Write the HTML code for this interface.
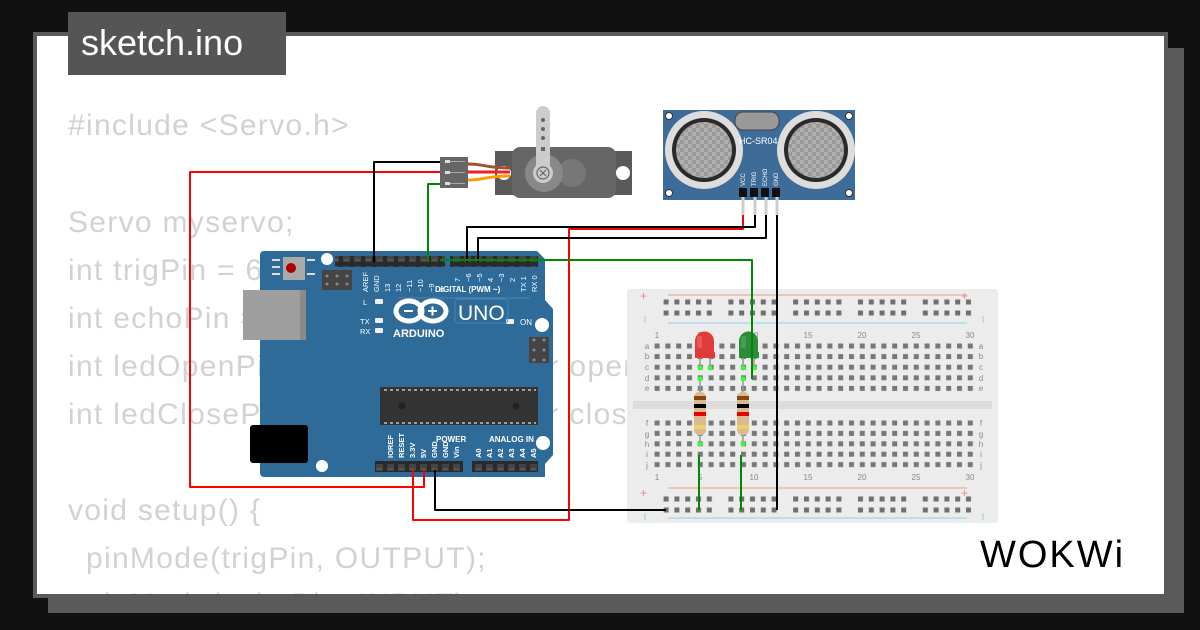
<!DOCTYPE html>
<html><head><meta charset="utf-8"><style>
html,body{margin:0;padding:0;background:#111;}
svg{display:block}
</style></head><body>
<svg width="1200" height="630" viewBox="0 0 1200 630" xmlns="http://www.w3.org/2000/svg" font-family="Liberation Sans, sans-serif">
<defs>
<pattern id="bbh" patternUnits="userSpaceOnUse" x="651.6" y="340.7" width="10.8" height="10.6"><rect x="3" y="2.8" width="5" height="5" fill="#777"/></pattern>
<pattern id="bbh2" patternUnits="userSpaceOnUse" x="651.6" y="417.7" width="10.8" height="10.4"><rect x="3" y="2.8" width="5" height="5" fill="#777"/></pattern>
<pattern id="rail" patternUnits="userSpaceOnUse" x="660.6" y="296.5" width="10.8" height="11"><rect x="3" y="3" width="5" height="5" fill="#6f6f6f"/></pattern>
<pattern id="rail2" patternUnits="userSpaceOnUse" x="660.6" y="493.5" width="10.8" height="11"><rect x="3" y="3" width="5" height="5" fill="#6f6f6f"/></pattern>
<pattern id="hdr" patternUnits="userSpaceOnUse" x="0" y="0" width="11" height="11"><rect x="2" y="2" width="7" height="7" fill="#444"/><rect x="3" y="6" width="5" height="2" fill="#555"/></pattern>
<pattern id="chk" patternUnits="userSpaceOnUse" width="8" height="8"><rect width="8" height="8" fill="#9a9a9a"/><rect width="4" height="4" fill="#b0b0b0"/><rect x="4" y="4" width="4" height="4" fill="#b0b0b0"/></pattern>
</defs>
<rect width="1200" height="630" fill="#111"/>
<rect x="48" y="48" width="1136" height="565" fill="#5a5a5a"/>
<rect x="33" y="32" width="1135" height="566" fill="#5a5a5a"/>
<rect x="37" y="36" width="1127" height="558" fill="#fff"/>
<rect x="68" y="12" width="218" height="63" fill="#555"/>
<text x="81" y="55" font-size="36" fill="#fff">sketch.ino</text>
<g font-size="30" fill="#d2d2d2" letter-spacing="1.3">
<text x="68" y="135">#include &lt;Servo.h&gt;</text>
<text x="68" y="232">Servo myservo;</text>
<text x="68" y="280">int trigPin = 6;</text>
<text x="68" y="328">int echoPin = 5;</text>
<text x="68" y="376">int ledOpenPin = 8;</text>
<text x="420" y="376">// LED for open</text>
<text x="68" y="424">int ledClosePin = 10;</text>
<text x="420" y="424">// LED for close</text>
<text x="68" y="520">void setup() {</text>
<text x="86" y="568">pinMode(trigPin, OUTPUT);</text>
<text x="86" y="614">pinMode(echoPin, INPUT);</text>
</g>
<rect x="33" y="594" width="1135" height="4" fill="#5a5a5a"/>
<rect x="33" y="598" width="15" height="32" fill="#111"/>
<rect x="48" y="598" width="1136" height="15" fill="#5a5a5a"/>
<rect x="0" y="613" width="1200" height="17" fill="#111"/>

<!-- breadboard -->
<rect x="627" y="289" width="371" height="234" rx="3" fill="#ececec"/>
<rect x="633" y="401" width="359" height="8" fill="#dcdcdc"/>
<line x1="668" y1="295" x2="967" y2="295" stroke="#f0b4ad" stroke-width="1.5"/>
<line x1="668" y1="323" x2="967" y2="323" stroke="#a9d9ee" stroke-width="1.5"/>
<line x1="668" y1="488" x2="967" y2="488" stroke="#f0b4ad" stroke-width="1.5"/>
<line x1="668" y1="518" x2="967" y2="518" stroke="#a9d9ee" stroke-width="1.5"/>
<g fill="#e88" font-size="12"><text x="640" y="300">+</text><text x="961" y="300">+</text><text x="640" y="497">+</text><text x="961" y="497">+</text></g>
<g stroke="#a9d9ee" stroke-width="1.5"><line x1="645" y1="316" x2="645" y2="323"/><line x1="983" y1="316" x2="983" y2="323"/><line x1="645" y1="513" x2="645" y2="520"/><line x1="983" y1="513" x2="983" y2="520"/></g>
<g fill="url(#rail)"><rect x="661" y="297" width="54" height="22"/><rect x="725.4" y="297" width="54" height="22"/><rect x="790.2" y="297" width="54" height="22"/><rect x="855" y="297" width="54" height="22"/><rect x="919.8" y="297" width="54" height="22"/></g>
<g fill="url(#rail2)"><rect x="661" y="494" width="54" height="22"/><rect x="725.4" y="494" width="54" height="22"/><rect x="790.2" y="494" width="54" height="22"/><rect x="855" y="494" width="54" height="22"/><rect x="919.8" y="494" width="54" height="22"/></g>
<rect x="651.6" y="340.7" width="324" height="53" fill="url(#bbh)"/>
<rect x="651.6" y="417.7" width="324" height="52" fill="url(#bbh2)"/>
<g font-size="8" fill="#888" text-anchor="middle">
<text x="657" y="338">1</text><text x="700" y="338">5</text><text x="754" y="338">10</text><text x="808" y="338">15</text><text x="862" y="338">20</text><text x="916" y="338">25</text><text x="970" y="338">30</text>
<text x="657" y="480">1</text><text x="700" y="480">5</text><text x="754" y="480">10</text><text x="808" y="480">15</text><text x="862" y="480">20</text><text x="916" y="480">25</text><text x="970" y="480">30</text>
<text x="647" y="349">a</text><text x="647" y="359">b</text><text x="647" y="370">c</text><text x="647" y="381">d</text><text x="647" y="391">e</text>
<text x="647" y="426">f</text><text x="647" y="437">g</text><text x="647" y="447">h</text><text x="647" y="457">i</text><text x="647" y="468">j</text>
<text x="981" y="349">a</text><text x="981" y="359">b</text><text x="981" y="370">c</text><text x="981" y="381">d</text><text x="981" y="391">e</text>
<text x="981" y="426">f</text><text x="981" y="437">g</text><text x="981" y="447">h</text><text x="981" y="457">i</text><text x="981" y="468">j</text>
</g>
<g stroke="#999" stroke-width="1.5"><line x1="700" y1="355" x2="700" y2="368"/><line x1="710" y1="355" x2="710" y2="368"/><line x1="743" y1="355" x2="743" y2="368"/><line x1="754" y1="355" x2="754" y2="368"/>
<line x1="700" y1="379" x2="700" y2="444"/><line x1="743" y1="379" x2="743" y2="444"/></g>
<path d="M695 360 V341 a9.5 9.5 0 0 1 19 0 V352 h1 v6 h-20z" fill="#e03a3a"/>
<rect x="697" y="336" width="5" height="12" rx="2" fill="#f07070" opacity=".6"/>
<path d="M739 360 V341 a9.5 9.5 0 0 1 19 0 V352 h1 v6 h-20z" fill="#2e8b3a"/>
<rect x="741" y="336" width="5" height="12" rx="2" fill="#55b060" opacity=".6"/>
<g fill="#d8bb92"><rect x="694" y="392" width="12" height="43" rx="5"/><rect x="737" y="392" width="12" height="43" rx="5"/></g>
<g><rect x="694" y="396" width="12" height="4" fill="#8b4513"/><rect x="694" y="404" width="12" height="4" fill="#000"/><rect x="694" y="412" width="12" height="4" fill="#e00"/><rect x="694" y="425" width="12" height="4" fill="#f0d060"/>
<rect x="737" y="396" width="12" height="4" fill="#8b4513"/><rect x="737" y="404" width="12" height="4" fill="#000"/><rect x="737" y="412" width="12" height="4" fill="#e00"/><rect x="737" y="425" width="12" height="4" fill="#f0d060"/></g>
<g fill="#3f3"><circle cx="700" cy="368" r="2.5"/><circle cx="710" cy="368" r="2.5"/><circle cx="743" cy="368" r="2.5"/><circle cx="754" cy="368" r="2.5"/><circle cx="700" cy="379" r="2.5"/><circle cx="743" cy="379" r="2.5"/><circle cx="700" cy="444" r="2.5"/><circle cx="743" cy="444" r="2.5"/></g>

<!-- Arduino -->
<path d="M264 251 H537 L545 259 V300 L553 309 V455 L545 464 V477 H264 a4 4 0 0 1 -4 -4 V255 a4 4 0 0 1 4 -4z" fill="#2e6b99"/>
<rect x="243" y="290" width="62" height="50" fill="#9e9e9e"/><rect x="300" y="290" width="6" height="50" fill="#8a8a8a"/>
<rect x="250" y="425" width="58" height="38" rx="3" fill="#000"/>
<rect x="283" y="257" width="22" height="23" fill="#aaa"/><circle cx="291" cy="268" r="5" fill="#a00"/>
<g fill="#ddd"><rect x="272" y="259" width="8" height="2"/><rect x="272" y="266" width="8" height="2"/><rect x="272" y="273" width="8" height="2"/><rect x="307" y="259" width="8" height="2"/><rect x="307" y="273" width="8" height="2"/></g>
<g fill="#fff"><circle cx="327" cy="259" r="6"/><circle cx="542" cy="325" r="7"/><circle cx="543" cy="443" r="7"/><circle cx="322" cy="466" r="6"/></g>
<rect x="322" y="270" width="30" height="20" fill="#444"/>
<g fill="#888"><circle cx="327" cy="276" r="1.5"/><circle cx="337" cy="276" r="1.5"/><circle cx="347" cy="276" r="1.5"/><circle cx="327" cy="284" r="1.5"/><circle cx="337" cy="284" r="1.5"/><circle cx="347" cy="284" r="1.5"/></g>
<rect x="529" y="337" width="20" height="26" fill="#444"/>
<g fill="#888"><circle cx="534" cy="340" r="1.5"/><circle cx="544" cy="340" r="1.5"/><circle cx="534" cy="350" r="1.5"/><circle cx="544" cy="350" r="1.5"/><circle cx="534" cy="360" r="1.5"/><circle cx="544" cy="360" r="1.5"/></g>
<rect x="335" y="256" width="110" height="11" fill="#2a2a2a"/><rect x="335" y="256" width="110" height="11" fill="url(#hdr)"/>
<rect x="450" y="256" width="88" height="11" fill="#2a2a2a"/><rect x="450" y="256" width="88" height="11" fill="url(#hdr)"/>
<rect x="375" y="461" width="88" height="11" fill="#2a2a2a"/><rect x="375" y="461" width="88" height="11" fill="url(#hdr)"/>
<rect x="472" y="461" width="66" height="11" fill="#2a2a2a"/><rect x="472" y="461" width="66" height="11" fill="url(#hdr)"/>
<g fill="#fff" font-size="7.5">
<g transform="translate(368,292) rotate(-90)"><text>AREF</text></g>
<g transform="translate(379,292) rotate(-90)"><text>GND</text></g>
<g transform="translate(390,292) rotate(-90)"><text>13</text></g>
<g transform="translate(401,292) rotate(-90)"><text>12</text></g>
<g transform="translate(412,292) rotate(-90)"><text>~11</text></g>
<g transform="translate(423,292) rotate(-90)"><text>~10</text></g>
<g transform="translate(434,292) rotate(-90)"><text>~9</text></g>
<g transform="translate(444,292) rotate(-90)"><text>8</text></g>
<g transform="translate(460,282) rotate(-90)"><text>7</text></g>
<g transform="translate(471,282) rotate(-90)"><text>~6</text></g>
<g transform="translate(482,282) rotate(-90)"><text>~5</text></g>
<g transform="translate(493,282) rotate(-90)"><text>4</text></g>
<g transform="translate(504,282) rotate(-90)"><text>~3</text></g>
<g transform="translate(515,282) rotate(-90)"><text>2</text></g>
<g transform="translate(526,292) rotate(-90)"><text>TX 1</text></g>
<g transform="translate(537,292) rotate(-90)"><text>RX 0</text></g>
<text x="435" y="292" font-weight="bold" font-size="8">DIGITAL (PWM ~)</text>
<text x="363" y="305">L</text><text x="360" y="324">TX</text><text x="360" y="334">RX</text>
<text x="520" y="325" font-size="8">ON</text>
<text x="393" y="337" font-weight="bold" font-size="11">ARDUINO</text>
<g transform="translate(393,458) rotate(-90)"><text font-weight="bold">IOREF</text></g>
<g transform="translate(404,458) rotate(-90)"><text font-weight="bold">RESET</text></g>
<g transform="translate(415,458) rotate(-90)"><text font-weight="bold">3.3V</text></g>
<g transform="translate(426,458) rotate(-90)"><text font-weight="bold">5V</text></g>
<g transform="translate(437,458) rotate(-90)"><text font-weight="bold">GND</text></g>
<g transform="translate(448,458) rotate(-90)"><text font-weight="bold">GND</text></g>
<g transform="translate(459,458) rotate(-90)"><text font-weight="bold">Vin</text></g>
<g transform="translate(481,458) rotate(-90)"><text font-weight="bold">A0</text></g>
<g transform="translate(492,458) rotate(-90)"><text font-weight="bold">A1</text></g>
<g transform="translate(503,458) rotate(-90)"><text font-weight="bold">A2</text></g>
<g transform="translate(514,458) rotate(-90)"><text font-weight="bold">A3</text></g>
<g transform="translate(525,458) rotate(-90)"><text font-weight="bold">A4</text></g>
<g transform="translate(536,458) rotate(-90)"><text font-weight="bold">A5</text></g>
<text x="436" y="442" font-weight="bold" font-size="8">POWER</text>
<text x="489" y="442" font-weight="bold" font-size="8">ANALOG IN</text>
</g>
<g fill="#eee"><rect x="375" y="299" width="8" height="5" rx="1"/><rect x="375" y="318" width="8" height="5" rx="1"/><rect x="375" y="328" width="8" height="5" rx="1"/><rect x="506" y="319" width="8" height="5" rx="1"/></g>
<g fill="none" stroke="#fff" stroke-width="5"><ellipse cx="409" cy="311" rx="13" ry="10"/><ellipse cx="433" cy="311" rx="13" ry="10"/></g>
<g stroke="#fff" stroke-width="2"><line x1="404" y1="311" x2="413" y2="311"/><line x1="428" y1="311" x2="437" y2="311"/><line x1="432.5" y1="306.5" x2="432.5" y2="315.5"/></g>
<rect x="455" y="299" width="53" height="24" rx="4" fill="none" stroke="#4a86b5" stroke-width="1"/>
<text x="458" y="320" font-size="21" fill="#fff">UNO</text>
<line x1="398" y1="298" x2="530" y2="298" stroke="#5a90bb" stroke-width="0.7"/>
<rect x="380" y="387" width="158" height="38" fill="#333"/>
<g stroke="#ddd" stroke-width="1.2" stroke-dasharray="3,3"><line x1="384" y1="390" x2="536" y2="390"/><line x1="384" y1="423" x2="536" y2="423"/></g>
<g fill="#222"><circle cx="402" cy="406" r="3.5"/><circle cx="516" cy="406" r="3.5"/></g>

<!-- Servo -->
<rect x="495" y="151" width="137" height="44" fill="#5a5a5a"/>
<rect x="512" y="147" width="104" height="51" rx="8" fill="#666"/>
<circle cx="504" cy="173" r="7" fill="#fff"/><circle cx="623" cy="173" r="7" fill="#fff"/>
<circle cx="572" cy="173" r="14" fill="#777"/>
<circle cx="544" cy="173" r="19" fill="#888"/>
<path d="M536 113 a7 7 0 0 1 14 0 L550 175 H536z" fill="#ccc"/>
<circle cx="543" cy="173" r="10" fill="#ccc"/>
<circle cx="543" cy="173" r="6" fill="none" stroke="#666" stroke-width="1.2"/>
<path d="M540 170 l6 6 M546 170 l-6 6" stroke="#666" stroke-width="1.2"/>
<g fill="#666"><circle cx="543" cy="120" r="2"/><circle cx="543" cy="129" r="2"/><circle cx="543" cy="138" r="2"/><rect x="541" y="147" width="4" height="4"/></g>
<path d="M468 164 C485 164 485 168 510 168" stroke="#a0522d" stroke-width="3" fill="none"/>
<path d="M468 172 H510" stroke="#e22" stroke-width="3"/>
<path d="M468 180 C485 180 485 176 510 176" stroke="#f90" stroke-width="3" fill="none"/>
<rect x="440" y="157" width="28" height="31" fill="#666"/>
<g fill="#ddd"><rect x="445" y="160" width="5" height="3"/><rect x="445" y="171" width="5" height="3"/><rect x="445" y="182" width="5" height="3"/></g>
<g stroke="#aaa" stroke-width="1"><line x1="450" y1="161.5" x2="465" y2="161.5"/><line x1="450" y1="172.5" x2="465" y2="172.5"/><line x1="450" y1="183.5" x2="465" y2="183.5"/></g>

<!-- HC-SR04 -->
<rect x="663" y="110" width="192" height="90" fill="#3e6c98"/>
<g fill="#fff" stroke="#333" stroke-width="1"><circle cx="669" cy="116" r="3.5"/><circle cx="849" cy="116" r="3.5"/><circle cx="669" cy="193" r="3.5"/><circle cx="849" cy="193" r="3.5"/></g>
<circle cx="704" cy="150" r="39" fill="#ddd"/><circle cx="704" cy="150" r="32" fill="#2a2a2a"/><circle cx="704" cy="150" r="28" fill="url(#chk)"/>
<circle cx="816" cy="150" r="39" fill="#ddd"/><circle cx="816" cy="150" r="32" fill="#2a2a2a"/><circle cx="816" cy="150" r="28" fill="url(#chk)"/>
<rect x="735" y="112" width="44" height="18" rx="8" fill="#999" stroke="#444" stroke-width="1"/>
<text x="739" y="144" font-size="9" fill="#fff">HC-SR04</text>
<g fill="#fff" font-size="6">
<g transform="translate(745,186) rotate(-90)"><text>VCC</text></g>
<g transform="translate(756,186) rotate(-90)"><text>TRIG</text></g>
<g transform="translate(767,186) rotate(-90)"><text>ECHO</text></g>
<g transform="translate(778,186) rotate(-90)"><text>GND</text></g>
</g>
<g fill="#111"><rect x="739" y="188" width="8" height="9"/><rect x="750" y="188" width="8" height="9"/><rect x="761" y="188" width="8" height="9"/><rect x="772" y="188" width="8" height="9"/></g>
<g stroke="#ccc" stroke-width="3"><line x1="743" y1="197" x2="743" y2="215"/><line x1="755" y1="197" x2="755" y2="215"/><line x1="766" y1="197" x2="766" y2="215"/><line x1="777" y1="197" x2="777" y2="215"/></g>

<!-- wires -->
<g fill="none" stroke-width="2" stroke-linejoin="round">
<path d="M440 172 H190 V487 H424 V470" stroke="#f00"/>
<path d="M413 470 V520 H569 V229 H743 V215" stroke="#f00"/>
<path d="M440 162 H374 V262" stroke="#000"/>
<path d="M440 184 H428 V262" stroke="#080"/>
<path d="M755 215 V227 H467 V262" stroke="#000"/>
<path d="M766 215 V238 H478 V262" stroke="#000"/>
<path d="M777 215 V510" stroke="#000"/>
<path d="M435 470 V510 H666" stroke="#000"/>
<path d="M440 260 H752 V379" stroke="#080"/>
<path d="M699 455 V510" stroke="#080"/>
<path d="M741 455 V510" stroke="#080"/>
</g>

<text x="980" y="567" font-size="38" fill="#000" letter-spacing="2">WOKWi</text>
</svg>
</body></html>
